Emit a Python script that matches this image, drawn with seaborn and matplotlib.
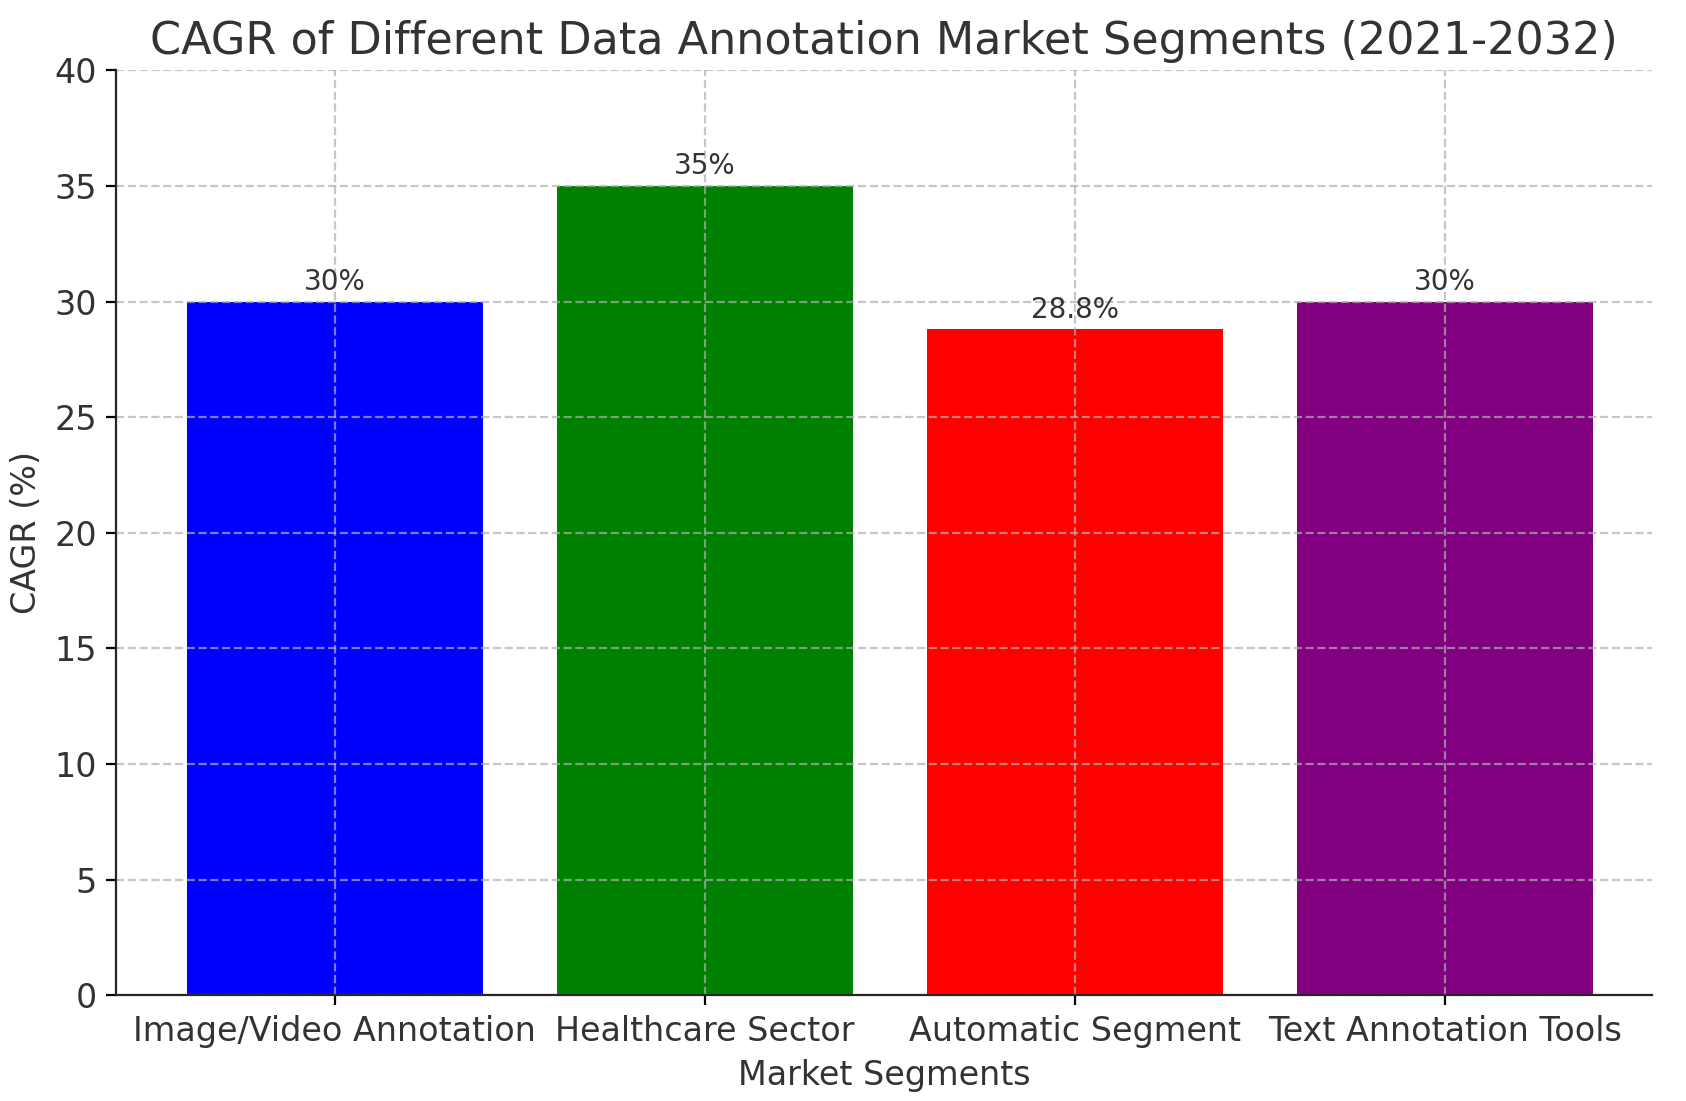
import matplotlib
matplotlib.use("Agg")
import matplotlib.pyplot as plt
import seaborn as sns
import pandas as pd

# -------------------- DATA --------------------
segments = ["Image/Video Annotation", "Healthcare Sector", "Automatic Segment", "Text Annotation Tools"]
cagr = [30, 35, 28.8, 30]
bar_colors = ["blue", "green", "red", "purple"]
labels = ["30%", "35%", "28.8%", "30%"]

df = pd.DataFrame({"Segment": segments, "CAGR": cagr})

# -------------------- PLOT --------------------
sns.set_style("ticks")
plt.rcParams["font.family"] = ["DejaVu Sans"]
text_color = "#333333"

fig = plt.figure(figsize=(8.43, 5.505), dpi=200)
ax = fig.add_axes([0.069, 0.096, 0.911, 0.840])

sns.barplot(data=df, x="Segment", y="CAGR", hue="Segment", palette=bar_colors,
            legend=False, width=0.8, saturation=1, linewidth=0, ax=ax)

for i, (v, lab) in enumerate(zip(cagr, labels)):
    ax.text(i, v + 0.25, lab, ha="center", va="bottom", fontsize=10, color=text_color)

ax.set_xlim(-0.59, 3.56)
ax.set_ylim(0, 40)
ax.grid(True, linestyle="--", color="#b0b0b0", alpha=0.7)
ax.set_axisbelow(False)
for s in ax.spines.values():
    s.set_zorder(5)
ax.set_title("CAGR of Different Data Annotation Market Segments (2021-2032)",
             fontsize=16, color=text_color)
ax.set_xlabel("Market Segments", fontsize=12, color=text_color)
ax.set_ylabel("CAGR (%)", fontsize=12, color=text_color)
ax.tick_params(labelsize=12, colors=text_color)
ax.tick_params(axis="both", color="black")
sns.despine(ax=ax)

fig.savefig("out.png", dpi=200)
